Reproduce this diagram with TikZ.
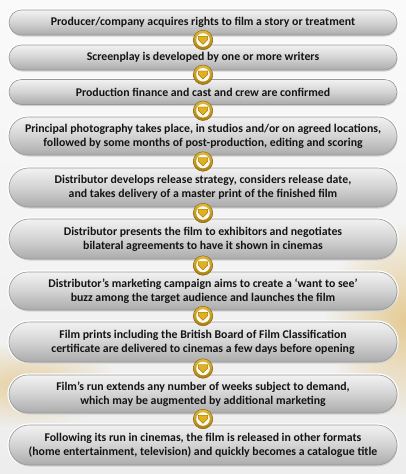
\documentclass[tikz,border=0pt]{standalone}
\usepackage{fontspec}
\setmainfont{Carlito}
\usetikzlibrary{shapes.misc,shadows,fadings,calc}
\tikzfading[name=softglow, inner color=transparent!0, outer color=transparent!100]
\definecolor{bgtop}{HTML}{FAFAFA}
\definecolor{bgbot}{HTML}{EDEDED}
\definecolor{haze}{HTML}{E3C585}
\definecolor{boxtop}{HTML}{F2F2F2}
\definecolor{boxmid}{HTML}{D3D3D3}
\definecolor{boxbot}{HTML}{ABABAB}
\definecolor{boxline}{HTML}{979797}
\definecolor{txt}{HTML}{141414}
\definecolor{goldtop}{HTML}{E2B93B}
\definecolor{goldbot}{HTML}{A97D12}
\definecolor{goldline}{HTML}{8C6A10}
\definecolor{innerwhite}{HTML}{FFFBEA}
\definecolor{arrowgold}{HTML}{E0B020}
\begin{document}
\begin{tikzpicture}[x=1pt,y=-1pt,
  stagebox/.style={rounded rectangle, minimum width=388pt, minimum height=#1,
    inner sep=0pt, align=center,
    font=\bfseries\fontsize{11.8}{14.2}\selectfont, text=txt,
    top color=boxtop, bottom color=boxbot, middle color=boxmid,
    draw=boxline, line width=0.6pt,
    preaction={draw=white, line width=3.2pt},
    drop shadow={opacity=0.35, shadow xshift=0.6pt, shadow yshift=-1.6pt}},
  stagebox/.default=25pt,
  arrowdot/.style={circle, minimum size=19.5pt, inner sep=0pt,
    draw=goldline, line width=0.5pt, top color=goldtop, bottom color=goldbot,
    path picture={
      \fill[innerwhite] (path picture bounding box.center) circle (6.8pt);
      \fill[arrowgold, draw=goldline, line width=0.3pt]
        ($(path picture bounding box.center)+(-4.8,-3.8)$) -- ++(9.6,0) -- ++(0,3.4)
        -- ++(-4.8,4.8) -- ++(-4.8,-4.8) -- cycle;
    }}]
\useasboundingbox (0,0) rectangle (406,474);
% background
\begin{scope}
\clip (0,0) rectangle (406,474);
\fill[top color=bgtop, bottom color=bgbot] (0,0) rectangle (406,474);
\fill[haze, opacity=0.85, path fading=softglow] (405,320) ellipse (80 and 100);
\fill[haze, opacity=0.75, path fading=softglow] (25,385) ellipse (95 and 42);
\end{scope}

\node[stagebox] (b1) at (203,22.5) {Producer/company acquires rights to film a story or treatment};
\node[stagebox] (b2) at (203,57.5) {Screenplay is developed by one or more writers};
\node[stagebox] (b3) at (203,92) {Production finance and cast and crew are confirmed};
\node[stagebox=38pt] (b4) at (203,136) {Principal photography takes place, in studios and/or on agreed locations,\\ followed by some months of post-production, editing and scoring};
\node[stagebox=39pt] (b5) at (203,187.5) {Distributor develops release strategy, considers release date,\\ and takes delivery of a master print of the finished film};
\node[stagebox=40pt] (b6) at (203,239) {Distributor presents the film to exhibitors and negotiates\\ bilateral agreements to have it shown in cinemas};
\node[stagebox=38pt] (b7) at (203,291) {Distributor’s marketing campaign aims to create a ‘want to see’\\ buzz among the target audience and launches the film};
\node[stagebox=40pt] (b8) at (203,342) {Film prints including the British Board of Film Classification\\ certificate are delivered to cinemas a few days before opening};
\node[stagebox=38pt] (b9) at (203,394) {Film’s run extends any number of weeks subject to demand,\\ which may be augmented by additional marketing};
\node[stagebox=40pt] (b10) at (203,445) {Following its run in cinemas, the film is released in other formats\\ (home entertainment, television) and quickly becomes a catalogue title};

\foreach \a/\b in {b1/b2,b2/b3,b3/b4,b4/b5,b5/b6,b6/b7,b7/b8,b8/b9,b9/b10}
  \path (\a.south) -- (\b.north) node[midway, arrowdot] (c\a) {};
\end{tikzpicture}
\end{document}
